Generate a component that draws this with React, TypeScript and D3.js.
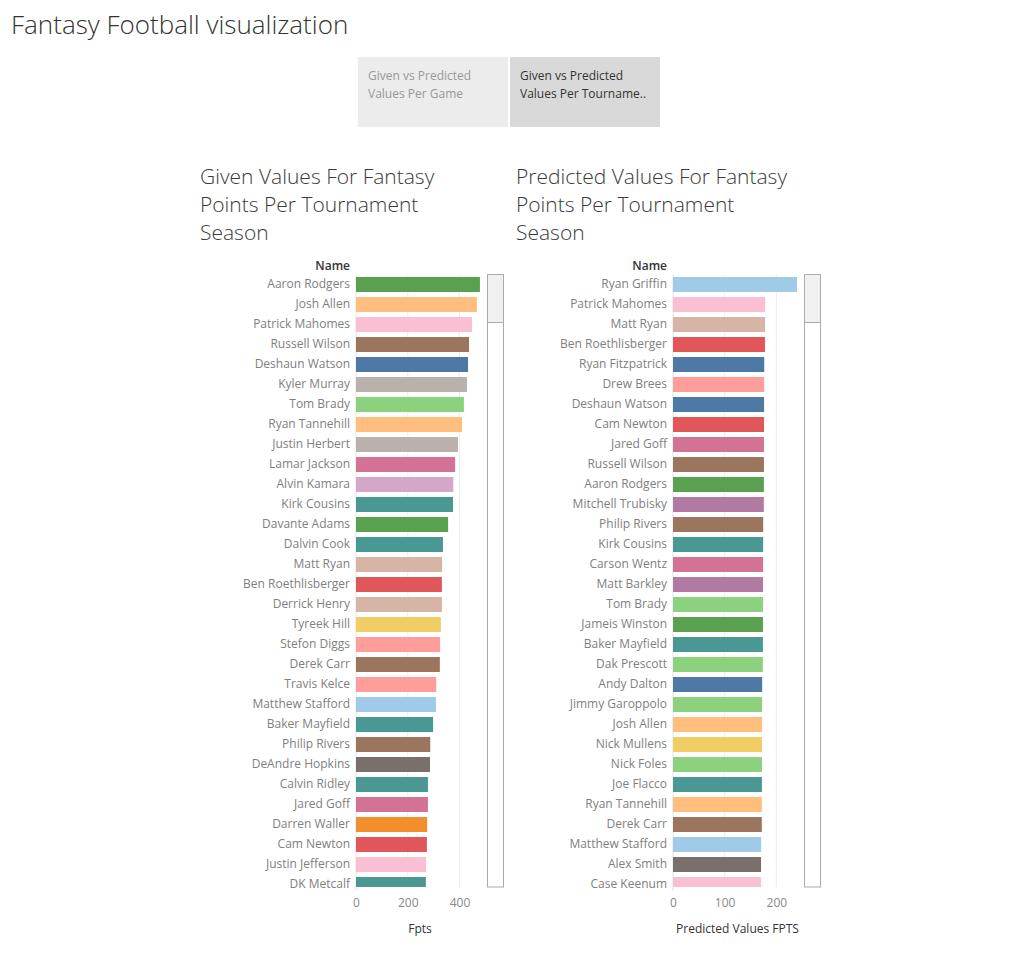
import React, { useEffect, useRef } from "react";
import * as d3 from "d3";

const givenNames = [
  "Aaron Rodgers", "Josh Allen", "Patrick Mahomes", "Russell Wilson", "Deshaun Watson",
  "Kyler Murray", "Tom Brady", "Ryan Tannehill", "Justin Herbert", "Lamar Jackson",
  "Alvin Kamara", "Kirk Cousins", "Davante Adams", "Dalvin Cook", "Matt Ryan",
  "Ben Roethlisberger", "Derrick Henry", "Tyreek Hill", "Stefon Diggs", "Derek Carr",
  "Travis Kelce", "Matthew Stafford", "Baker Mayfield", "Philip Rivers", "DeAndre Hopkins",
  "Calvin Ridley", "Jared Goff", "Darren Waller", "Cam Newton", "Justin Jefferson", "DK Metcalf",
];
const givenFpts = [
  479, 467, 448, 437, 433, 429, 417, 410, 394, 383,
  376, 375, 356, 336, 333, 332, 332, 328, 325, 324,
  310, 309, 298, 287, 286, 278, 278, 275, 274, 271, 270,
];

const predNames = [
  "Ryan Griffin", "Patrick Mahomes", "Matt Ryan", "Ben Roethlisberger", "Ryan Fitzpatrick",
  "Drew Brees", "Deshaun Watson", "Cam Newton", "Jared Goff", "Russell Wilson",
  "Aaron Rodgers", "Mitchell Trubisky", "Philip Rivers", "Kirk Cousins", "Carson Wentz",
  "Matt Barkley", "Tom Brady", "Jameis Winston", "Baker Mayfield", "Dak Prescott",
  "Andy Dalton", "Jimmy Garoppolo", "Josh Allen", "Nick Mullens", "Nick Foles",
  "Joe Flacco", "Ryan Tannehill", "Derek Carr", "Matthew Stafford", "Alex Smith", "Case Keenum",
];
const predFpts = [
  240, 178.4, 178.2, 178, 176.6, 176.4, 176.3, 176.2, 176.1, 176,
  175.9, 175.8, 174.6, 174.5, 174.4, 174.3, 174.2, 174.1, 174, 173.9,
  172.6, 172.5, 172.4, 172.3, 172.2, 172.1, 172, 171.9, 170.6, 170.4, 170.2,
];

const leftTicks = [0, 200, 400];
const rightTicks = [0, 100, 200];

const playerColors: Record<string, string> = {
  "Aaron Rodgers": "#59A14F", "Josh Allen": "#FFBE7D", "Patrick Mahomes": "#FABFD2",
  "Russell Wilson": "#9C755F", "Deshaun Watson": "#4E79A7", "Kyler Murray": "#BAB0AC",
  "Tom Brady": "#8CD17D", "Ryan Tannehill": "#FFBE7D", "Justin Herbert": "#BAB0AC",
  "Lamar Jackson": "#D37295", "Alvin Kamara": "#D4A6C8", "Kirk Cousins": "#499894",
  "Davante Adams": "#59A14F", "Dalvin Cook": "#499894", "Matt Ryan": "#D7B5A6",
  "Ben Roethlisberger": "#E15759", "Derrick Henry": "#D7B5A6", "Tyreek Hill": "#F1CE63",
  "Stefon Diggs": "#FF9D9A", "Derek Carr": "#9C755F", "Travis Kelce": "#FF9D9A",
  "Matthew Stafford": "#A0CBE8", "Baker Mayfield": "#499894", "Philip Rivers": "#9C755F",
  "DeAndre Hopkins": "#79706E", "Calvin Ridley": "#499894", "Jared Goff": "#D37295",
  "Darren Waller": "#F28E2B", "Cam Newton": "#E15759", "Justin Jefferson": "#FABFD2",
  "DK Metcalf": "#499894", "Ryan Griffin": "#A0CBE8", "Ryan Fitzpatrick": "#4E79A7",
  "Drew Brees": "#FF9D9A", "Mitchell Trubisky": "#B07AA1", "Carson Wentz": "#D37295",
  "Matt Barkley": "#B07AA1", "Jameis Winston": "#59A14F", "Dak Prescott": "#8CD17D",
  "Andy Dalton": "#4E79A7", "Jimmy Garoppolo": "#8CD17D", "Nick Mullens": "#F1CE63",
  "Nick Foles": "#8CD17D", "Joe Flacco": "#499894", "Alex Smith": "#79706E",
  "Case Keenum": "#FABFD2",
};

const FONT = "'Open Sans', Lato, sans-serif";

type PanelProps = {
  id: string;
  names: string[];
  values: number[];
  ticks: number[];
  domainMax: number;
  x0: number;
  x1: number;
  labelRight: number;
  titleX: number;
  titleLines: string[];
  axisTitle: string;
  axisTitleX: number;
  scrollX: number;
};

function Panel(p: PanelProps) {
  const axisRef = useRef<SVGGElement>(null);
  const top = 274.5;
  const bottom = 887;
  const x = d3.scaleLinear().domain([0, p.domainMax]).range([p.x0, p.x1]);
  const y = d3
    .scaleBand<string>()
    .domain(p.names)
    .range([top, top + p.names.length * 20])
    .paddingInner(0.25)
    .paddingOuter(0.125);

  useEffect(() => {
    if (!axisRef.current) return;
    const g = d3.select(axisRef.current);
    g.selectAll("*").remove();
    g.call(d3.axisBottom(x).tickValues(p.ticks).tickSize(0).tickPadding(0));
    g.select(".domain").remove();
    g.selectAll("text")
      .attr("font-family", FONT)
      .attr("font-size", 12)
      .attr("fill", "#888")
      .attr("dy", "0.35em");
  }, []);

  return (
    <g>
      {p.titleLines.map((t, i) => (
        <text key={i} x={p.titleX} y={184 + i * 28} fontFamily={FONT}
          fontSize={21} fill="#3a3a3a" fontWeight={300}>
          {t}
        </text>
      ))}
      <text x={p.labelRight} y={266} dy="0.35em" textAnchor="end" fontFamily={FONT}
        fontSize={12} fill="#333" fontWeight={600}>
        Name
      </text>
      <defs>
        <clipPath id={`clip-${p.id}`}>
          <rect x={p.x0 - 200} y={top} width={500} height={bottom - top} />
        </clipPath>
        <clipPath id={`cliplab-${p.id}`}>
          <rect x={p.x0 - 200} y={top} width={500} height={bottom - top + 1.5} />
        </clipPath>
      </defs>
      {p.ticks.filter((t) => t !== 0).map((t) => (
        <line key={t} x1={x(t)} x2={x(t)} y1={top} y2={bottom} stroke="#ececec" strokeWidth={1} />
      ))}
      <line x1={x(0)} x2={x(0)} y1={top} y2={891} stroke="#e2e2e2" strokeWidth={1} />
      <g clipPath={`url(#clip-${p.id})`}>
        {p.names.map((n, i) => (
          <rect key={n + i} x={x(0)} y={y(n)} width={x(p.values[i]) - x(0)} height={y.bandwidth()}
            fill={playerColors[n]} />
        ))}
      </g>
      <g clipPath={`url(#cliplab-${p.id})`}>
        {p.names.map((n, i) => (
          <text key={n + i} x={p.labelRight} y={(y(n) as number) + y.bandwidth() / 2 - 0.5} dy="0.35em"
            textAnchor="end" fontFamily={FONT} fontSize={12} fill="#808080">
            {n}
          </text>
        ))}
      </g>
      <g ref={axisRef} transform="translate(0,903)" />
      <text x={p.axisTitleX} y={929} dy="0.35em" textAnchor="middle" fontFamily={FONT}
        fontSize={12} fill="#333">
        {p.axisTitle}
      </text>
      <rect x={p.scrollX} y={top} width={16} height={bottom - top} fill="#fff" stroke="#aaa" strokeWidth={1} />
      <rect x={p.scrollX} y={top} width={16} height={48} fill="#f0f0f0" stroke="#aaa" strokeWidth={1} />
    </g>
  );
}

export default function App() {
  return (
    <svg width={1015} height={963} style={{ position: "absolute", left: 0, top: 0, display: "block" }}>
      <rect width={1015} height={963} fill="#fff" />
      <text x={11} y={34} fontFamily={FONT} fontSize={26} fill="#333" fontWeight={300}>
        Fantasy Football visualization
      </text>
      <rect x={358} y={57} width={150} height={70} fill="#ececec" />
      <rect x={510} y={57} width={150} height={70} fill="#d9d9d9" />
      <text x={368} y={76} dy="0.35em" fontFamily={FONT} fontSize={12} fill="#999">Given vs Predicted</text>
      <text x={368} y={94} dy="0.35em" fontFamily={FONT} fontSize={12} fill="#999">Values Per Game</text>
      <text x={520} y={76} dy="0.35em" fontFamily={FONT} fontSize={12} fill="#333">Given vs Predicted</text>
      <text x={520} y={94} dy="0.35em" fontFamily={FONT} fontSize={12} fill="#333">Values Per Tourname..</text>
      <Panel id="given" names={givenNames} values={givenFpts} ticks={leftTicks} domainMax={480}
        x0={356} x1={480.2} labelRight={350} titleX={200}
        titleLines={["Given Values For Fantasy", "Points Per Tournament", "Season"]}
        axisTitle="Fpts" axisTitleX={420} scrollX={487.5} />
      <Panel id="pred" names={predNames} values={predFpts} ticks={rightTicks} domainMax={240}
        x0={673} x1={797} labelRight={667} titleX={516}
        titleLines={["Predicted Values For Fantasy", "Points Per Tournament", "Season"]}
        axisTitle="Predicted Values FPTS" axisTitleX={737.5} scrollX={804.5} />
    </svg>
  );
}
